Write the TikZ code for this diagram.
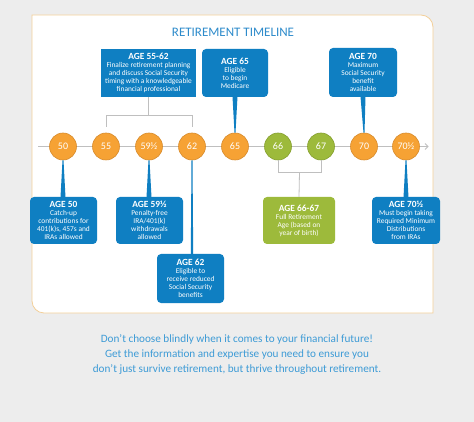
\documentclass[tikz,border=0pt]{standalone}
\usepackage{fontspec}
\setmainfont{Carlito}
\usetikzlibrary{calc}
\definecolor{bgc}{HTML}{EDEDED}
\definecolor{panelb}{HTML}{F3CF98}
\definecolor{orf}{HTML}{F6A234}
\definecolor{ord}{HTML}{D88C2E}
\definecolor{grf}{HTML}{9DBA3B}
\definecolor{grd}{HTML}{86A030}
\definecolor{bluebox}{HTML}{0F7FC2}
\definecolor{titlec}{HTML}{2D8BCB}
\definecolor{footc}{HTML}{3D9BD6}
\definecolor{linec}{HTML}{BFBFBF}
\tikzset{
  agecirc/.style={circle, minimum size=27pt, inner sep=0pt, fill=orf, draw=ord, line width=0.6pt, text=white, font=\fontsize{10}{10}\selectfont},
  greencirc/.style={agecirc, fill=grf, draw=grd},
  infobox/.style={fill=bluebox, text=white, align=center, inner sep=1pt, rounded corners=4pt, font=\fontsize{7.4}{8}\selectfont},
  greenbox/.style={infobox, fill=grf},
  pointer/.style={fill=bluebox},
  bracket/.style={draw=linec, line width=0.8pt},
}
\newcommand{\hdr}[1]{{\bfseries\fontsize{9.4}{8.5}\selectfont #1}}
\begin{document}
\begin{tikzpicture}[x=1pt,y=-1pt]
\useasboundingbox (0,0) rectangle (474,422);
\fill[bgc] (0,0) rectangle (474,422);
% panel
\draw[panelb, fill=white, line width=0.8pt] (32,15) -- (421,15) .. controls (427.6,15) and (433,20.4) .. (433,27) -- (433,313) -- (44,313) .. controls (37.4,313) and (32,307.6) .. (32,301) -- cycle;
\node[text=titlec, font=\fontsize{13}{14}\selectfont] (title) at (233,32) {RETIREMENT TIMELINE};
% timeline
\coordinate (tl0) at (38,146.5);
\coordinate (tl1) at (428,146.5);
\draw[linec, line width=0.8pt] (tl0) -- (tl1);
\draw[linec, line width=0.8pt] ($(tl1)+(-3,-3)$) -- (tl1) -- ($(tl1)+(-3,3)$);
% circles
\node[agecirc] (c50) at (63,146.5) {50};
\node[agecirc] (c55) at (106,146.5) {55};
\node[agecirc] (c59) at (149,146.5) {59½};
\node[agecirc] (c62) at (192,146.5) {62};
\node[agecirc] (c65) at (235,146.5) {65};
\node[greencirc] (c66) at (278,146.5) {66};
\node[greencirc] (c67) at (321,146.5) {67};
\node[agecirc] (c70) at (364,146.5) {70};
\node[agecirc] (c705) at (406,146.5) {70½};
% top boxes
\node[infobox, rounded corners=0pt, minimum width=95pt, minimum height=48pt] (b5562) at (148.5,73)
  {\hdr{AGE 55-62}\\Finalize retirement planning\\and discuss Social Security\\timing with a knowledgeable\\financial professional};
\node[infobox, minimum width=66pt, minimum height=48pt] (b65) at (235,73)
  {\hdr{AGE 65}\\Eligible\\to begin\\Medicare};
\node[infobox, minimum width=68pt, minimum height=49pt] (b70) at (363,72.5)
  {\hdr{AGE 70}\\Maximum\\Social Security\\benefit\\available};
% bottom boxes
\node[infobox, minimum width=67pt, minimum height=47pt] (b50) at (63.5,220.5)
  {\hdr{AGE 50}\\Catch-up\\contributions for\\401(k)s, 457s and\\IRAs allowed};
\node[infobox, minimum width=67pt, minimum height=47pt] (b59) at (149.5,220.5)
  {\hdr{AGE 59½}\\Penalty-free\\IRA/401(k)\\withdrawals\\allowed};
\node[infobox, minimum width=67pt, minimum height=49pt] (b62) at (190.5,278.5)
  {\hdr{AGE 62}\\Eligible to\\receive reduced\\Social Security\\benefits};
\node[greenbox, minimum width=72pt, minimum height=47pt] (b6667) at (299,220.5)
  {\hdr{AGE 66-67}\\Full Retirement\\Age (based on\\year of birth)};
\node[infobox, minimum width=68pt, minimum height=47pt] (b705) at (406,220.5)
  {\hdr{AGE 70½}\\Must begin taking\\Required Minimum\\Distributions\\from IRAs};
% pointers (top)
\fill[pointer] ($(b65.south)+(-2.5,-0.5)$) -- ($(b65.south)+(2.5,-0.5)$) -- ($(c65.north)+(0.5,0)$) -- ($(c65.north)+(-0.5,0)$) -- cycle;
\fill[pointer] ($(b70.south)+(-2.5,-0.5)$) -- ($(b70.south)+(2.5,-0.5)$) -- ($(c70.north)+(0.5,0)$) -- ($(c70.north)+(-0.5,0)$) -- cycle;
% pointers (bottom)
\fill[pointer] ($(c50.south)+(-0.5,0)$) -- ($(c50.south)+(0.5,0)$) -- ($(c50.south|-b50.north)+(2.5,0.5)$) -- ($(c50.south|-b50.north)+(-2.5,0.5)$) -- cycle;
\fill[pointer] ($(c59.south)+(-0.5,0)$) -- ($(c59.south)+(0.5,0)$) -- ($(c59.south|-b59.north)+(2.5,0.5)$) -- ($(c59.south|-b59.north)+(-2.5,0.5)$) -- cycle;
\fill[pointer] ($(c62.south)+(-0.5,0)$) -- ($(c62.south)+(0.5,0)$) -- ($(c62.south|-b62.north)+(1.2,0.5)$) -- ($(c62.south|-b62.north)+(-1.2,0.5)$) -- cycle;
\fill[pointer] ($(c705.south)+(-0.5,0)$) -- ($(c705.south)+(0.5,0)$) -- ($(c705.south|-b705.north)+(2.5,0.5)$) -- ($(c705.south|-b705.north)+(-2.5,0.5)$) -- cycle;
% brackets
\coordinate (k55) at (106,127);
\coordinate (k62) at (192,127);
\draw[bracket] (b5562.south) -- ++(0,18) coordinate (kmid);
\draw[bracket] (k55) -- (k55|-kmid) -- (k62|-kmid) -- (k62);
\draw[bracket] (c66.south) -- ++(0,12) coordinate (g66) -- (g66-|c67) -- (c67.south);
\draw[bracket] ($(g66)!0.5!(g66-|c67)$) -- (b6667.north);
% footer
\node[text=footc, align=center, font=\fontsize{11.2}{15}\selectfont] (foot) at (237,355)
  {Don't choose blindly when it comes to your financial future!\\Get the information and expertise you need to ensure you\\don't just survive retirement, but thrive throughout retirement.};
\end{tikzpicture}
\end{document}
